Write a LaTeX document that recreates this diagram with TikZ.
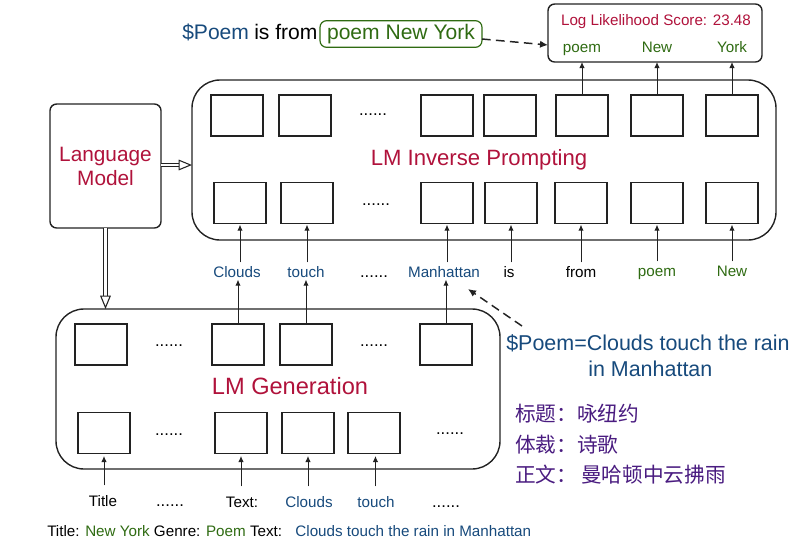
\documentclass[tikz,border=0pt]{standalone}
\usepackage{fontspec}
\setmainfont{Liberation Sans}
\newfontfamily\cjk{Noto Sans CJK SC}
\usetikzlibrary{arrows.meta}
\definecolor{lmred}{HTML}{B0123B}
\definecolor{lmblue}{HTML}{174A7C}
\definecolor{lmgreen}{HTML}{2F6B12}
\definecolor{lmpurple}{HTML}{4A1C80}
\definecolor{lmline}{HTML}{222222}
\tikzset{
  cell/.style={draw=lmline,line width=1.15pt,minimum width=39pt,minimum height=30.5pt,inner sep=0pt,outer sep=0pt},
  panel/.style={draw=lmline,line width=1.05pt,rounded corners=21pt,inner sep=0pt,outer sep=0pt},
  card/.style={draw=lmline,line width=1.05pt,rounded corners=5pt,inner sep=0pt,outer sep=0pt},
  word/.style={font=\fontsize{11.4}{13}\selectfont,inner sep=0pt,outer sep=0pt,text height=9pt,text depth=2pt,anchor=base},
  big/.style={font=\fontsize{15.6}{18}\selectfont,inner sep=0pt,align=center},
  midtext/.style={font=\fontsize{15.8}{18}\selectfont,inner sep=0pt,anchor=base west},
  cn/.style={font=\cjk\fontsize{15.5}{18}\selectfont,text=lmpurple,inner sep=0pt,anchor=base west},
  dots/.style={font=\fontsize{12.5}{14}\selectfont,inner sep=0pt},
  uparrow/.style={draw=lmline,line width=.7pt,-{Latex[length=4.5pt,width=4pt]}},
  dashline/.style={draw=lmline,line width=1.1pt,dash pattern=on 6.5pt off 4pt,-{Latex[length=6pt,width=5.5pt]}},
  hollow/.style={draw=lmline,line width=.8pt,double=white,double distance=1.8pt,-{Triangle[open,length=10pt,width=8pt,line width=.8pt]}},
}
\begin{document}
\begin{tikzpicture}[x=0.75pt,y=-0.75pt]
\useasboundingbox (0,0) rectangle (811,550);
% language model
\node[card,minimum width=83.25pt,minimum height=93pt,text=lmred,big] (lm) at (105.5,166) {Language\\Model};
% inverse prompting panel
\node[panel,minimum width=438pt,minimum height=120pt] (inv) at (484,160) {};
\node[big,text=lmred,font=\fontsize{16.6}{20}\selectfont] (invt) at (479,160) {LM Inverse Prompting};
\foreach \n/\x in {1/237,2/305,3/447,4/510,5/582,6/657,7/732}
  \node[cell] (a\n) at (\x,115.5) {};
\foreach \n/\x in {1/240,2/307,3/447,4/511,5/581,6/657,7/732}
  \node[cell] (b\n) at (\x,203) {};
\node[dots] (ad) at (373,115) {......};
\node[dots] (bd) at (376,205) {......};
% score box
\node[card,minimum width=160.5pt,minimum height=43.5pt] (score) at (655,33) {};
\node[font=\fontsize{11.4}{13}\selectfont,text=lmred,inner sep=0pt] (scoret) at (656,22) {Log Likelihood Score: 23.48};
\node[word,text=lmgreen] (s1) at (582,52) {poem};
\node[word,text=lmgreen] (s2) at (657,52) {New};
\node[word,text=lmgreen] (s3) at (732,52) {York};
% prompt line
\node[midtext,text=lmblue] (pv) at (182,39) {\$Poem};
\node[midtext] (pf) at (254,39) {is from};
\node[midtext,draw=lmgreen,line width=.9pt,rounded corners=5pt,text=lmgreen,anchor=center,minimum width=121.5pt,minimum height=20pt] (pb) at (401,34) {poem New York};
\coordinate (pe) at (482,39);
% words between the panels
\node[word,text=lmblue] (w1) at (237,277) {Clouds};
\node[word,text=lmblue] (w2) at (306,277) {touch};
\node[word,font=\fontsize{12.5}{14}\selectfont] (wd) at (374,277) {......};
\node[word,text=lmblue] (w3) at (444,277) {Manhattan};
\node[word] (w4) at (509,277) {is};
\node[word] (w5) at (581,277) {from};
\node[word,text=lmgreen] (w6) at (657,276) {poem};
\node[word,text=lmgreen] (w7) at (732,276) {New};
% generation panel
\node[panel,minimum width=333pt,minimum height=120pt] (gen) at (278,389) {};
\node[big,text=lmred,font=\fontsize{17.7}{21}\selectfont] (gent) at (290,386) {LM Generation};
\foreach \n/\x in {1/101,2/238,3/306,4/446}
  \node[cell] (c\n) at (\x,344.5) {};
\foreach \n/\x in {1/104,2/241,3/308,4/374}
  \node[cell] (d\n) at (\x,433) {};
\node[dots] (cd1) at (169,346) {......};
\node[dots] (cd2) at (374,346) {......};
\node[dots] (dd1) at (169,435) {......};
\node[dots] (dd2) at (450,434) {......};
% words under the generation panel
\node[word] (x1) at (103,506) {Title};
\node[word,font=\fontsize{12.5}{14}\selectfont] (xd1) at (170,506) {......};
\node[word] (x2) at (242,507) {Text:};
\node[word,text=lmblue] (x3) at (309,507) {Clouds};
\node[word,text=lmblue] (x4) at (376,507) {touch};
\node[word,font=\fontsize{12.5}{14}\selectfont] (xd2) at (446,507) {......};
\node[font=\fontsize{11.4}{13}\selectfont,inner sep=0pt,anchor=base west] (line) at (47,536) {Title: \textcolor{lmgreen}{New York} Genre: \textcolor{lmgreen}{Poem} Text:\hspace{10pt}\textcolor{lmblue}{Clouds touch the rain in Manhattan}};
% poem and chinese text
\node[midtext,text=lmblue,font=\fontsize{16.1}{19}\selectfont] (q1) at (506,350) {\$Poem=Clouds touch the rain};
\node[midtext,text=lmblue,font=\fontsize{16.1}{19}\selectfont] (q2) at (588,376) {in Manhattan};
\coordinate (qs) at (522,326);
\coordinate (qe) at (468,289);
\node[cn] (z1) at (515,421) {标题：咏纽约};
\node[cn] (z2) at (515,452) {体裁：诗歌};
\node[cn] (z3) at (515,482) {正文：\hspace{3pt}曼哈顿中云拂雨};
% connectors
\draw[hollow] (lm.east |- 0,165) -- (inv.west |- 0,165);
\draw[hollow] (lm.south) -- (gen.north -| lm.south);
\foreach \n in {1,2,3,4,5,6,7}
  \draw[uparrow,shorten <=2pt,shorten >=1pt] (w\n.north -| b\n.south) -- (b\n.south);
\draw[uparrow] (a5.north) -- (score.south -| a5.north);
\draw[uparrow] (a6.north) -- (score.south -| a6.north);
\draw[uparrow] (a7.north) -- (score.south -| a7.north);
\draw[uparrow] (c2.north) -- (c2.north |- w1.south);
\draw[uparrow] (c3.north) -- (c3.north |- w2.south);
\draw[uparrow] (c4.north) -- (c4.north |- w3.south);
\draw[uparrow,shorten <=6.5pt,shorten >=2pt] (x1.north -| d1.south) -- (d1.south);
\draw[uparrow,shorten <=6.5pt,shorten >=2pt] (x2.north -| d2.south) -- (d2.south);
\draw[uparrow,shorten <=6.5pt,shorten >=2pt] (x3.north -| d3.south) -- (d3.south);
\draw[uparrow,shorten <=6.5pt,shorten >=2pt] ([xshift=1.1pt]d4.south |- x4.north) -- ([xshift=1.1pt]d4.south);
\draw[dashline] (pe) -- (score.west |- 0,45);
\draw[dashline] (qs) -- (qe);
\end{tikzpicture}
\end{document}
